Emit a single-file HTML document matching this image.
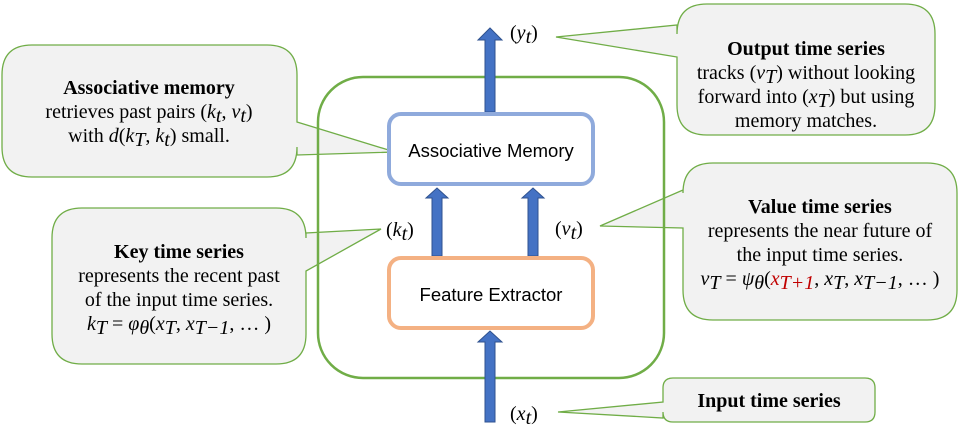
<!DOCTYPE html>
<html><head><meta charset="utf-8"><style>
html,body{margin:0;padding:0;background:#fff;}
svg{display:block;}
.t{font-family:"Liberation Serif",serif;font-size:20px;fill:#000;}
.b{font-weight:bold;}
.m{font-family:"Liberation Serif",serif;font-style:italic;font-size:20px;}
.s{font-family:"Liberation Sans",sans-serif;font-size:18.5px;}
</style></head><body>
<svg width="960" height="430" viewBox="0 0 960 430" xmlns="http://www.w3.org/2000/svg">
<g fill="#f2f2f2" stroke="#70ad47" stroke-width="1.3">
<path d="M32,45 H267 Q297,45 297,75 V122 L395,152 L297,155 V147 Q297,177 267,177 H32 Q2,177 2,147 V75 Q2,45 32,45 Z"/>
<path d="M82,208 H276 Q306,208 306,238 V233 L381,229 L306,271 V334 Q306,364 276,364 H82 Q52,364 52,334 V238 Q52,208 82,208 Z"/>
<path d="M707,4 H905 Q935,4 935,34 V105 Q935,135 905,135 H707 Q677,135 677,105 V57 L556,37 L677,25 V34 Q677,4 707,4 Z"/>
<path d="M713,163 H927 Q957,163 957,193 V290 Q957,320 927,320 H713 Q683,320 683,290 V228 L600,226 L683,190 V193 Q683,163 713,163 Z"/>
<path d="M673,378 H865 Q875,378 875,388 V412 Q875,422 865,422 H673 Q663,422 663,412 V418 L558,412 L663,402 V388 Q663,378 673,378 Z"/>
</g>
<rect x="318" y="77" width="346" height="301" rx="45" fill="none" stroke="#70ad47" stroke-width="2.5"/>
<g fill="#4472c4" stroke="#2f528f" stroke-width="1">
<path d="M485,112 V40 H478 L490,28 L502,40 H495 V112 Z"/>
<path d="M432,256 V198 H426 L437,188 L448,198 H442 V256 Z"/>
<path d="M528,256 V198 H522 L533,188 L544,198 H538 V256 Z"/>
<path d="M485,422 V342 H478 L490,331 L502,342 H495 V422 Z"/>
</g>
<rect x="389" y="114" width="204" height="70" rx="12" fill="#fff" stroke="#8faadc" stroke-width="4"/>
<rect x="389" y="258" width="204" height="70" rx="12" fill="#fff" stroke="#f4b183" stroke-width="4"/>
<text x="491" y="157" text-anchor="middle" class="s">Associative Memory</text>
<text x="491" y="301" text-anchor="middle" class="s">Feature Extractor</text>
<text x="386" y="236" class="t">(<tspan class="m">k</tspan><tspan class="m" font-size="14" dy="4">t</tspan><tspan dy="-4">)</tspan></text>
<text x="555" y="235" class="t">(<tspan class="m">v</tspan><tspan class="m" font-size="14" dy="4">t</tspan><tspan dy="-4">)</tspan></text>
<text x="510" y="420" class="t">(<tspan class="m">x</tspan><tspan class="m" font-size="14" dy="4">t</tspan><tspan dy="-4">)</tspan></text>
<text x="510" y="39" class="t">(<tspan class="m">y</tspan><tspan class="m" font-size="14" dy="4">t</tspan><tspan dy="-4">)</tspan></text>
<text x="149" y="94" text-anchor="middle" class="t b">Associative memory</text>
<text x="149" y="118" text-anchor="middle" class="t">retrieves past pairs (<tspan class="m">k</tspan><tspan class="m" font-size="14" dy="4">t</tspan><tspan dy="-4">, </tspan><tspan class="m">v</tspan><tspan class="m" font-size="14" dy="4">t</tspan><tspan dy="-4">)</tspan></text>
<text x="149" y="142" text-anchor="middle" class="t">with <tspan class="m">d</tspan>(<tspan class="m">k</tspan><tspan class="m" font-size="14" dy="4">T</tspan><tspan dy="-4">, </tspan><tspan class="m">k</tspan><tspan class="m" font-size="14" dy="4">t</tspan><tspan dy="-4">) small.</tspan></text>
<text x="179" y="258" text-anchor="middle" class="t b">Key time series</text>
<text x="179" y="282" text-anchor="middle" class="t">represents the recent past</text>
<text x="179" y="306" text-anchor="middle" class="t">of the input time series.</text>
<text x="179" y="330" text-anchor="middle" class="t"><tspan class="m">k</tspan><tspan class="m" font-size="14" dy="4">T</tspan><tspan dy="-4"> = </tspan><tspan class="m">φ</tspan><tspan class="m" font-size="14" dy="4">θ</tspan><tspan dy="-4">(</tspan><tspan class="m">x</tspan><tspan class="m" font-size="14" dy="4">T</tspan><tspan dy="-4">, </tspan><tspan class="m">x</tspan><tspan class="m" font-size="14" dy="4">T−1</tspan><tspan dy="-4">, … )</tspan></text>
<text x="806" y="55" text-anchor="middle" class="t b">Output time series</text>
<text x="806" y="79" text-anchor="middle" class="t">tracks (<tspan class="m">v</tspan><tspan class="m" font-size="14" dy="4">T</tspan><tspan dy="-4">) without looking</tspan></text>
<text x="806" y="103" text-anchor="middle" class="t">forward into (<tspan class="m">x</tspan><tspan class="m" font-size="14" dy="4">T</tspan><tspan dy="-4">) but using</tspan></text>
<text x="806" y="127" text-anchor="middle" class="t">memory matches.</text>
<text x="820" y="213" text-anchor="middle" class="t b">Value time series</text>
<text x="820" y="237" text-anchor="middle" class="t">represents the near future of</text>
<text x="820" y="261" text-anchor="middle" class="t">the input time series.</text>
<text x="820" y="285" text-anchor="middle" class="t"><tspan class="m">v</tspan><tspan class="m" font-size="14" dy="4">T</tspan><tspan dy="-4"> = </tspan><tspan class="m">ψ</tspan><tspan class="m" font-size="14" dy="4">θ</tspan><tspan dy="-4">(</tspan><tspan class="m" fill="#c00000">x</tspan><tspan class="m" font-size="14" dy="4" fill="#c00000">T+1</tspan><tspan dy="-4">, </tspan><tspan class="m">x</tspan><tspan class="m" font-size="14" dy="4">T</tspan><tspan dy="-4">, </tspan><tspan class="m">x</tspan><tspan class="m" font-size="14" dy="4">T−1</tspan><tspan dy="-4">, … )</tspan></text>
<text x="769" y="407" text-anchor="middle" class="t b">Input time series</text>
</svg>
</body></html>
